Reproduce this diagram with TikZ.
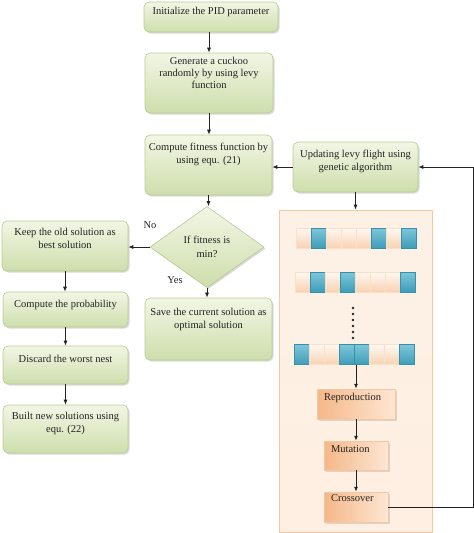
\documentclass[tikz,border=0pt]{standalone}
\usepackage{fontspec}
\setmainfont{Liberation Serif}
\usetikzlibrary{shapes.geometric,arrows.meta,shadows,calc}
\definecolor{gbord}{HTML}{B7CB90}
\definecolor{gtop}{HTML}{F2F6E5}
\definecolor{gbot}{HTML}{CEDEAC}
\definecolor{pfill}{HTML}{FDF0E5}
\definecolor{pbord}{HTML}{F4C8A5}
\definecolor{otop}{HTML}{FDE6D3}
\definecolor{obot}{HTML}{F5B888}
\definecolor{bltop}{HTML}{7FC6D9}
\definecolor{blbot}{HTML}{3D9DB8}
\definecolor{blbord}{HTML}{3690AA}
\definecolor{wtop}{HTML}{FFF8F2}
\definecolor{wbot}{HTML}{F8D2B2}
\definecolor{ink}{HTML}{222222}
\newcommand{\tb}[4]{\parbox[c][#2][t]{#1}{\centering\vspace*{#3}#4\par}}
\newcommand{\lb}[4]{\parbox[c][#2][t]{#1}{\raggedright\vspace*{#3}\hspace*{7pt}#4\par}}
\begin{document}
\begin{tikzpicture}[x=1pt,y=-1pt,
  every node/.style={font=\fontsize{10.5}{13.5}\selectfont, text=ink},
  gbox/.style={draw=gbord, line width=0.6pt, rounded corners=5pt, top color=gtop, bottom color=gbot, inner sep=0pt,
     drop shadow={opacity=0.3, shadow xshift=1.5pt, shadow yshift=-1.5pt}},
  obox/.style={draw=pbord, line width=0.5pt, left color=obot, right color=otop, inner sep=0pt,
     drop shadow={opacity=0.25, shadow xshift=1.5pt, shadow yshift=-1.5pt}},
  panel/.style={draw=pbord, line width=0.8pt, top color=pfill, bottom color=pfill!90!orange!60!white, inner sep=0pt,
     minimum width=153pt, minimum height=322pt},
  wcell/.style={draw=wbot!70!white, line width=0.3pt, top color=wtop, bottom color=wbot, minimum width=15pt, minimum height=20pt, inner sep=0pt},
  bcell/.style={draw=blbord, line width=0.4pt, top color=bltop, bottom color=blbot, minimum width=15pt, minimum height=20pt, inner sep=0pt},
  arr/.style={-{Latex[length=5pt,width=4pt]}, draw=ink, line width=0.8pt},
  ln/.style={draw=ink, line width=0.8pt}]
\useasboundingbox (0,0) rectangle (474,533);

% panel
\node[panel] (panel) at (355.5,371) {};

% green boxes
\node[gbox] (b1) at (211,17) {\tb{134pt}{30pt}{5pt}{Initialize the PID parameter}};
\node[gbox] (b2) at (209,83) {\tb{128pt}{60pt}{4pt}{Generate a cuckoo\\[-1.5pt] randomly by using levy\\[-1.5pt] function}};
\node[gbox] (b3) at (208.5,165) {\tb{127pt}{60pt}{8pt}{Compute fitness function by\\ using equ. (21)}};
\node[gbox] (upd) at (355.5,167) {\tb{125pt}{50pt}{8pt}{Updating levy flight using\\ genetic algorithm}};
\node[diamond, draw=gbord, line width=0.6pt, top color=gtop, bottom color=gbot, inner sep=0pt,
      minimum width=114pt, minimum height=65pt,
      drop shadow={opacity=0.3, shadow xshift=1.5pt, shadow yshift=-1.5pt}] (dia) at (207,247)
      {\parbox{60pt}{\centering If fitness is\\ min?}};
\node[gbox] (save) at (208.5,329) {\tb{127pt}{62pt}{10pt}{Save the current solution as\\ optimal solution}};
\node[gbox] (keep) at (65,246) {\tb{126pt}{50pt}{7pt}{Keep the old solution as\\ best solution}};
\node[gbox] (prob) at (65.5,309.5) {\tb{125pt}{35pt}{8pt}{Compute the probability}};
\node[gbox] (disc) at (65.5,365) {\tb{125pt}{38pt}{9pt}{Discard the worst nest}};
\node[gbox] (built) at (65.5,429) {\tb{125pt}{48pt}{7pt}{Built new solutions using\\ equ. (22)}};

\node at (150,225) {No};
\node at (175,280) {Yes};

% chromosomes
\foreach \t [count=\i] in {w,b,w,w,w,b,w,b}
  \node[\t cell] (r1c\i) at ({296+7.5+15*(\i-1)},238) {};
\foreach \t [count=\i] in {w,b,w,b,w,w,w,b}
  \node[\t cell] (r2c\i) at ({295+7.5+15*(\i-1)},282) {};
\foreach \t [count=\i] in {b,w,w,b,b,w,w,b}
  \node[\t cell] (r3c\i) at ({294+7.5+15*(\i-1)},354.5) {};
\foreach \k in {0,...,5}
  \fill[ink] (353,{308+6*\k}) circle (1.3pt);

% orange boxes
\node[obox] (rep) at (356,404) {\lb{78pt}{30pt}{4pt}{Reproduction}};
\node[obox] (mut) at (356,455.5) {\lb{64pt}{29pt}{5pt}{Mutation}};
\node[obox] (cro) at (356,507) {\lb{64pt}{30pt}{3pt}{Crossover}};

\coordinate (fb) at (473,509);

% connectors
\draw[arr] (b2.north |- b1.south) -- (b2.north);
\draw[arr] (b2.south) -- (b2.south |- b3.north);
\draw[arr] (b3.south) -- (b3.south |- dia.north);
\draw[arr] (dia.west) -- (dia.west -| keep.east);
\draw[arr] (dia.south) -- (dia.south |- save.north);
\draw[arr] (keep.south) -- (keep.south |- prob.north);
\draw[arr] (prob.south) -- (prob.south |- disc.north);
\draw[arr] (disc.south) -- (disc.south |- built.north);
\draw[arr] (upd.west) -- (upd.west -| b3.east);
\draw[arr] (upd.south) -- (upd.south |- panel.north);
\draw[arr] (r3c5.south west -| rep.north) -- (rep.north);
\draw[arr] (rep) -- (mut);
\draw[arr] (mut) -- (cro);
\draw[arr] (cro.east) -- (cro.east -| fb) -- (fb |- upd.east) -- (upd.east);
\end{tikzpicture}
\end{document}
